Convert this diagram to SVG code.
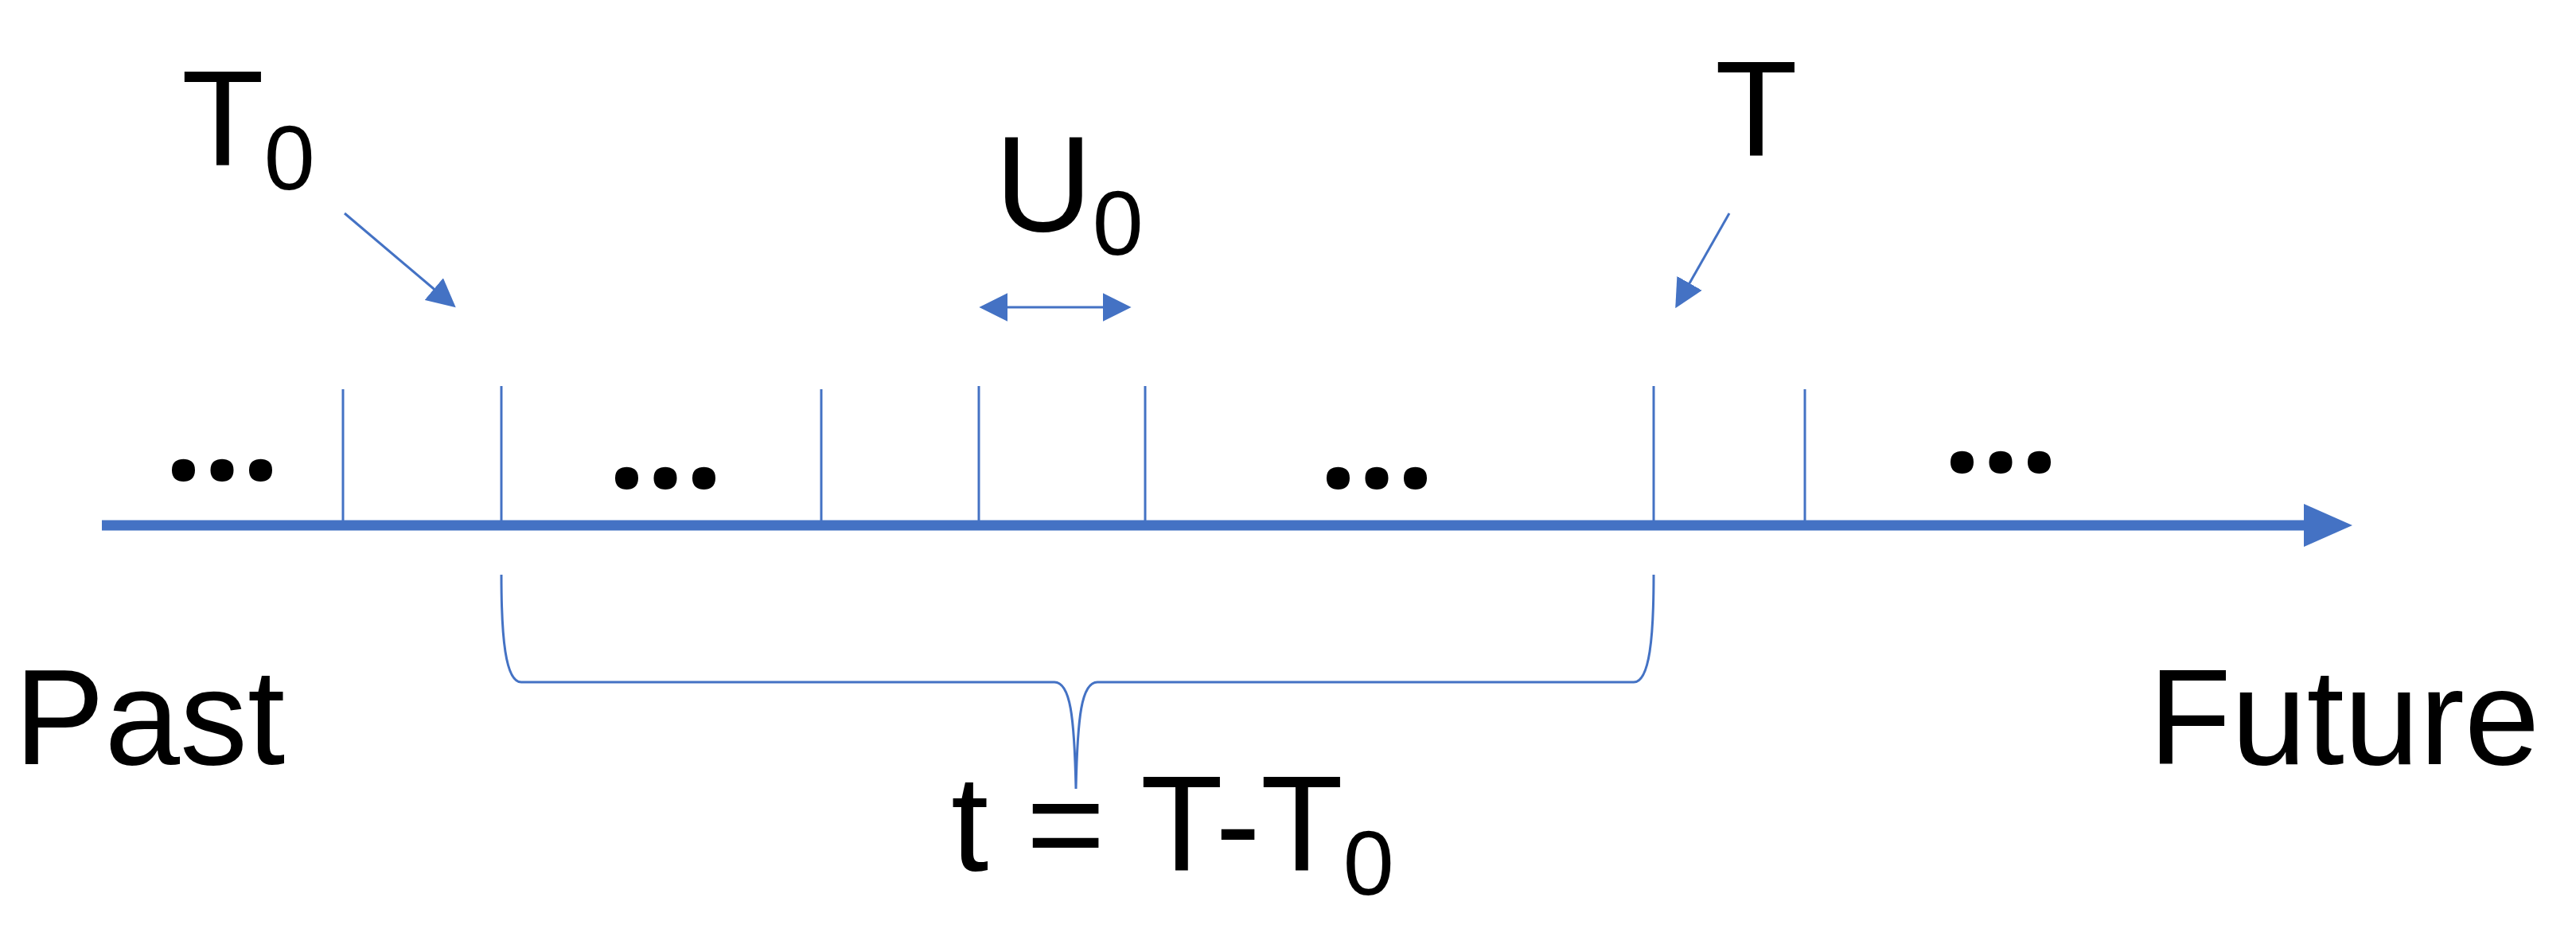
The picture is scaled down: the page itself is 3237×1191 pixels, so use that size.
<svg xmlns="http://www.w3.org/2000/svg" width="3237" height="1191" viewBox="0 0 3237 1191">
<style>
.t{font-family:"Liberation Sans",Arial,sans-serif;font-size:170px;fill:#000}
.s{font-size:115px}
.d{font-family:"Open Sans",sans-serif;font-size:170px;font-weight:bold;fill:#000}
.tick{stroke:#4472C4;stroke-width:3}
.thin{stroke:#4472C4;stroke-width:3;fill:none}
</style>
<defs>
<marker id="ah" viewBox="0 0 10 10" refX="9" refY="5" markerWidth="12" markerHeight="12" markerUnits="strokeWidth" orient="auto-start-reverse"><path d="M0,0L10,5L0,10z" fill="#4472C4"/></marker>
</defs>
<rect width="3237" height="1191" fill="#fff"/>
<g id="axis">
<line x1="128" y1="660" x2="2905" y2="660" stroke="#4472C4" stroke-width="13"/>
<path d="M2895,633L2956,660L2895,687z" fill="#4472C4"/>
</g>
<g id="ticks">
<line class="tick" x1="431" y1="489" x2="431" y2="660"/>
<line class="tick" x1="630" y1="485" x2="630" y2="660"/>
<line class="tick" x1="1032" y1="489" x2="1032" y2="660"/>
<line class="tick" x1="1230" y1="485" x2="1230" y2="660"/>
<line class="tick" x1="1439" y1="485" x2="1439" y2="660"/>
<line class="tick" x1="2078" y1="485" x2="2078" y2="660"/>
<line class="tick" x1="2268" y1="489" x2="2268" y2="660"/>
</g>
<g id="dots">
<text class="d" x="279" y="603" text-anchor="middle">...</text>
<text class="d" x="836" y="613" text-anchor="middle">...</text>
<text class="d" x="1730" y="613" text-anchor="middle">...</text>
<text class="d" x="2514" y="593" text-anchor="middle">...</text>
</g>
<g id="connectors">
<line class="thin" x1="433" y1="268" x2="570" y2="384" marker-end="url(#ah)"/>
<line class="thin" x1="2173" y1="268" x2="2107" y2="384" marker-end="url(#ah)"/>
<line class="thin" x1="1234" y1="386" x2="1418" y2="386" marker-start="url(#ah)" marker-end="url(#ah)"/>
<path class="thin" d="M630,722C630,800 635,857 655,857L1325,857C1345,857 1350,900 1352,991C1354,900 1359,857 1379,857L2053,857C2073,857 2078,800 2078,722" stroke="#6F96D6"/>
</g>
<g id="labels">
<text class="t" x="228" y="208">T<tspan class="s" dy="30">0</tspan></text>
<text class="t" x="1250" y="290">U<tspan class="s" dy="30">0</tspan></text>
<text class="t" x="2155" y="196">T</text>
<text class="t" x="18" y="960">Past</text>
<text class="t" x="2700" y="960">Future</text>
<text class="t" x="1195" y="1094">t = T-T<tspan class="s" dy="30">0</tspan></text>
</g>
</svg>
